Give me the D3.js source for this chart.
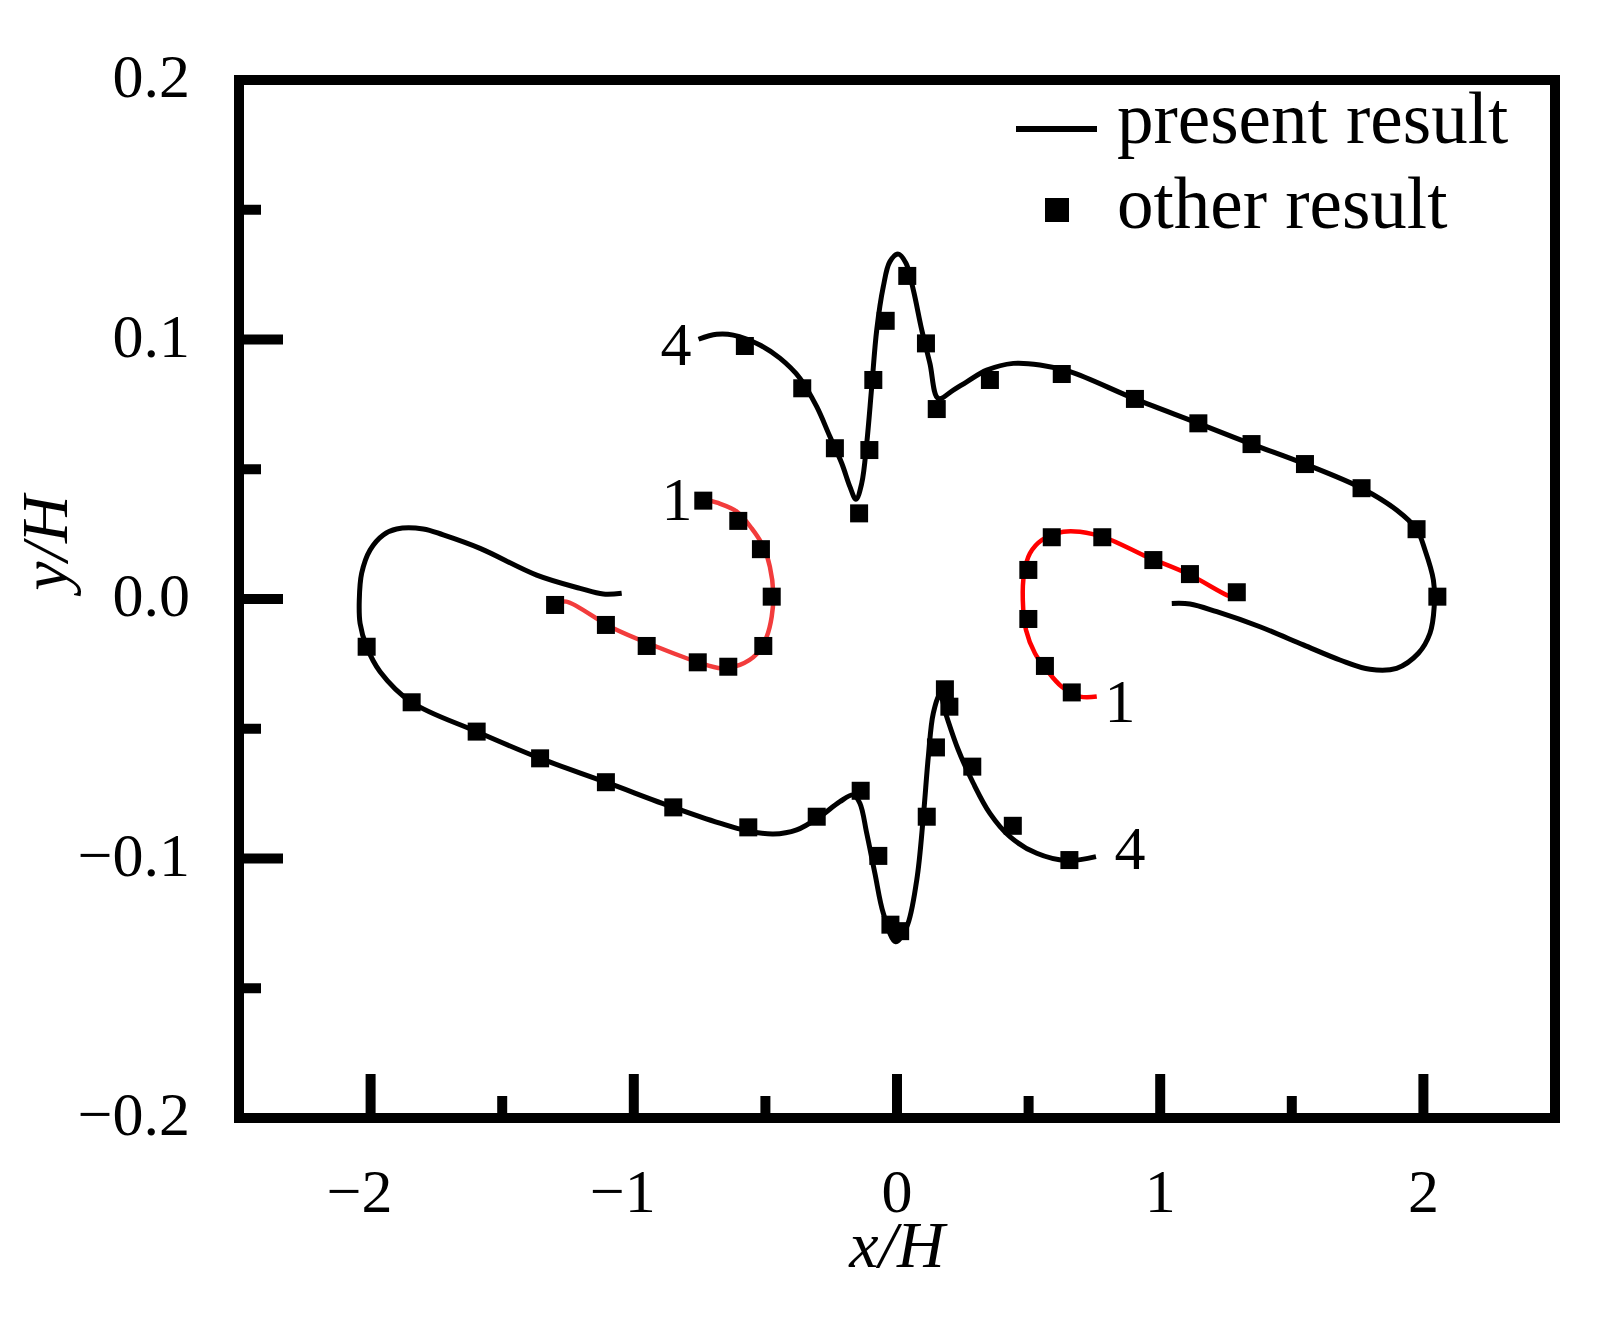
<!DOCTYPE html>
<html>
<head>
<meta charset="utf-8">
<script src="https://cdn.jsdelivr.net/npm/d3@7"></script>
<style>
  html, body { margin: 0; padding: 0; background: #fff; }
  svg { display: block; }
  text { font-family: "Liberation Serif", "Times New Roman", serif; fill: #000; }
</style>
</head>
<body>
<svg id="chart" width="1604" height="1324"></svg>
<script>
// ---------- data ----------
const xTicksMajor = [-2, -1, 0, 1, 2];
const xTicksMinor = [-1.5, -0.5, 0.5, 1.5];
const yTicksMajor = [-0.2, -0.1, 0.0, 0.1, 0.2];
const yTicksMinor = [-0.15, -0.05, 0.05, 0.15];
const xTickLabels = ["\u22122", "\u22121", "0", "1", "2"];
const yTickLabels = ["\u22120.2", "\u22120.1", "0.0", "0.1", "0.2"];

// present result (lines), time 4, upper branch
const present4Upper = [
  [-0.754, 0.1001], [-0.685, 0.1020], [-0.622, 0.1017], [-0.521, 0.0979], [-0.445, 0.0928],
  [-0.369, 0.0851], [-0.305, 0.0741], [-0.255, 0.0626], [-0.210, 0.0523], [-0.179, 0.0433],
  [-0.156, 0.0384], [-0.134, 0.0446], [-0.115, 0.0600], [-0.096, 0.0818], [-0.077, 0.1037],
  [-0.052, 0.1204], [-0.027, 0.1300], [0.005, 0.1329], [0.034, 0.1294], [0.062, 0.1191],
  [0.094, 0.1037], [0.125, 0.0908], [0.157, 0.0773], [0.214, 0.0805], [0.265, 0.0837],
  [0.341, 0.0882], [0.442, 0.0908], [0.543, 0.0902], [0.657, 0.0876], [0.904, 0.0771],
  [1.145, 0.0677], [1.347, 0.0597], [1.550, 0.0520], [1.765, 0.0427], [1.898, 0.0343],
  [1.974, 0.0269], [2.006, 0.0189], [2.038, 0.0073], [2.041, -0.0030], [2.025, -0.0132],
  [1.981, -0.0209], [1.898, -0.0267], [1.797, -0.0271], [1.683, -0.0235], [1.544, -0.0177],
  [1.379, -0.0107], [1.215, -0.0049], [1.113, -0.0019], [1.044, -0.0017]
];
// present result, time 4, lower branch
const present4Lower = [
  [0.756, -0.0993], [0.645, -0.1008], [0.531, -0.0980], [0.429, -0.0916], [0.353, -0.0826],
  [0.290, -0.0710], [0.233, -0.0582], [0.189, -0.0454], [0.163, -0.0370], [0.138, -0.0440],
  [0.119, -0.0608], [0.100, -0.0839], [0.075, -0.1083], [0.037, -0.1263], [-0.005, -0.1321],
  [-0.052, -0.1211], [-0.084, -0.1057], [-0.115, -0.0903], [-0.141, -0.0787], [-0.166, -0.0755],
  [-0.217, -0.0781], [-0.293, -0.0839], [-0.381, -0.0890], [-0.470, -0.0906], [-0.571, -0.0893],
  [-0.673, -0.0864], [-0.850, -0.0803], [-1.106, -0.0706], [-1.356, -0.0614], [-1.597, -0.0511],
  [-1.844, -0.0398], [-1.964, -0.0280], [-2.015, -0.0184], [-2.040, -0.0094], [-2.043, -0.0004],
  [-2.034, 0.0099], [-2.002, 0.0189], [-1.952, 0.0247], [-1.901, 0.0270], [-1.800, 0.0270],
  [-1.724, 0.0247], [-1.584, 0.0195], [-1.369, 0.0092], [-1.204, 0.0041], [-1.116, 0.0019],
  [-1.046, 0.0022]
];
// present result, time 1, left branch
const present1Left = [
  [-0.736, 0.0385], [-0.680, 0.0370], [-0.609, 0.0337], [-0.552, 0.0272], [-0.508, 0.0202],
  [-0.483, 0.0124], [-0.470, 0.0022], [-0.476, -0.0068], [-0.495, -0.0145], [-0.533, -0.0212],
  [-0.597, -0.0254], [-0.666, -0.0267], [-0.761, -0.0242], [-0.913, -0.0184], [-1.078, -0.0113],
  [-1.256, -0.0010], [-1.290, -0.0015]
];
// present result, time 1, right branch
const present1Right = [
  [0.759, -0.0376], [0.695, -0.0376], [0.626, -0.0338], [0.569, -0.0274], [0.524, -0.0209],
  [0.490, -0.0119], [0.478, -0.0004], [0.483, 0.0099], [0.505, 0.0176], [0.550, 0.0227],
  [0.632, 0.0259], [0.695, 0.0259], [0.797, 0.0234], [0.949, 0.0163], [1.101, 0.0099],
  [1.253, 0.0015], [1.268, 0.0010]
];

// other result (square markers)
const other4Upper = [
  [-0.578, 0.0975], [-0.360, 0.0812], [-0.236, 0.0581], [-0.144, 0.0330], [-0.105, 0.0574],
  [-0.090, 0.0844], [-0.043, 0.1072], [0.039, 0.1245], [0.110, 0.0985], [0.151, 0.0732],
  [0.353, 0.0844], [0.626, 0.0867], [0.904, 0.0771], [1.145, 0.0677], [1.347, 0.0597],
  [1.550, 0.0520], [1.765, 0.0427], [1.974, 0.0269], [2.053, 0.0009]
];
const other4Lower = [
  [0.655, -0.1006], [0.440, -0.0874], [0.286, -0.0646], [0.199, -0.0415], [0.182, -0.0348],
  [0.148, -0.0572], [0.113, -0.0839], [0.012, -0.1280], [-0.025, -0.1255], [-0.071, -0.0990],
  [-0.138, -0.0739], [-0.305, -0.0839], [-0.565, -0.0880], [-0.850, -0.0803], [-1.106, -0.0706],
  [-1.356, -0.0614], [-1.597, -0.0511], [-1.844, -0.0398], [-2.015, -0.0184]
];
const other1Left = [
  [-1.299, -0.0023], [-1.106, -0.0100], [-0.951, -0.0181], [-0.757, -0.0244], [-0.641, -0.0261],
  [-0.508, -0.0181], [-0.476, 0.0009], [-0.517, 0.0192], [-0.603, 0.0301], [-0.736, 0.0379]
];
const other1Right = [
  [0.588, 0.0238], [0.780, 0.0238], [0.974, 0.0150], [1.113, 0.0096], [1.291, 0.0026],
  [0.499, 0.0112], [0.499, -0.0077], [0.562, -0.0258], [0.664, -0.0360]
];

// curve annotations: [label, x, y]
const curveLabels = [
  ["4", -0.840, 0.0902],
  ["1", -0.836, 0.0304],
  ["1", 0.847, -0.0474],
  ["4", 0.885, -0.1040]
];

const legendItems = ["present result", "other result"];

// ---------- layout ----------
const svg = d3.select("#chart");
const pL = 239, pR = 1555, pT = 80, pB = 1118;
const x = d3.scaleLinear().domain([-2.5, 2.5]).range([pL, pR]);
const y = d3.scaleLinear().domain([-0.2, 0.2]).range([pB, pT]);

svg.append("rect").attr("width", 1604).attr("height", 1324).attr("fill", "#fff");

// ticks (inward)
const tickG = svg.append("g");
const majLen = 44, minLen = 22, tickW = 10;
xTicksMajor.concat(xTicksMinor).forEach(v => {
  const len = xTicksMajor.includes(v) ? majLen : minLen;
  tickG.append("line").attr("x1", x(v)).attr("x2", x(v))
    .attr("y1", pB).attr("y2", pB - len)
    .attr("stroke", "#000").attr("stroke-width", tickW);
});
yTicksMajor.concat(yTicksMinor).forEach(v => {
  const len = yTicksMajor.includes(v) ? majLen : minLen;
  tickG.append("line").attr("x1", pL).attr("x2", pL + len)
    .attr("y1", y(v)).attr("y2", y(v))
    .attr("stroke", "#000").attr("stroke-width", tickW);
});

// frame
svg.append("rect").attr("x", pL).attr("y", pT)
  .attr("width", pR - pL).attr("height", pB - pT)
  .attr("fill", "none").attr("stroke", "#000").attr("stroke-width", 10);

// tick labels
svg.append("g").selectAll("text").data(xTicksMajor).join("text")
  .attr("x", d => x(d) + (d < 0 ? -11 : 0)).attr("y", 1212)
  .attr("text-anchor", "middle").attr("font-size", 62)
  .text((d, i) => xTickLabels[i]);
svg.append("g").selectAll("text").data(yTicksMajor).join("text")
  .attr("x", 190).attr("y", d => y(d) + 17)
  .attr("text-anchor", "end").attr("font-size", 62)
  .text((d, i) => yTickLabels[i]);

// axis titles
svg.append("text").attr("x", x(0)).attr("y", 1267)
  .attr("text-anchor", "middle").attr("font-size", 66).attr("font-style", "italic")
  .text("x/H");
svg.append("text").attr("transform", "translate(67,543) rotate(-90)")
  .attr("text-anchor", "middle").attr("font-size", 66).attr("font-style", "italic")
  .text("y/H");

// lines
const line = d3.line().x(d => x(d[0])).y(d => y(d[1])).curve(d3.curveCatmullRom.alpha(0.5));
const plotG = svg.append("g");
[[present4Upper, "#000", 5], [present4Lower, "#000", 5],
 [present1Left, "#f23c3c", 4.5], [present1Right, "#ff0000", 4.5]].forEach(([data, color, w]) => {
  plotG.append("path").datum(data).attr("d", line)
    .attr("fill", "none").attr("stroke", color).attr("stroke-width", w)
    .attr("stroke-linejoin", "round").attr("stroke-linecap", "butt");
});

// markers
const ms = 18;
const allOther = [].concat(other4Upper, other4Lower, other1Left, other1Right);
plotG.append("g").selectAll("rect").data(allOther).join("rect")
  .attr("x", d => x(d[0]) - ms / 2).attr("y", d => y(d[1]) - ms / 2)
  .attr("width", ms).attr("height", ms).attr("fill", "#000");

// curve labels
svg.append("g").selectAll("text").data(curveLabels).join("text")
  .attr("x", d => x(d[1])).attr("y", d => y(d[2]))
  .attr("text-anchor", "middle").attr("font-size", 62)
  .text(d => d[0]);

// legend
const lg = svg.append("g");
lg.append("line").attr("x1", 1016).attr("x2", 1097).attr("y1", 129).attr("y2", 129)
  .attr("stroke", "#000").attr("stroke-width", 6);
lg.append("text").attr("x", 1117).attr("y", 143).attr("font-size", 73).text(legendItems[0]);
lg.append("rect").attr("x", 1045).attr("y", 198).attr("width", 24).attr("height", 24).attr("fill", "#000");
lg.append("text").attr("x", 1117).attr("y", 228).attr("font-size", 73).text(legendItems[1]);
</script>
</body>
</html>
